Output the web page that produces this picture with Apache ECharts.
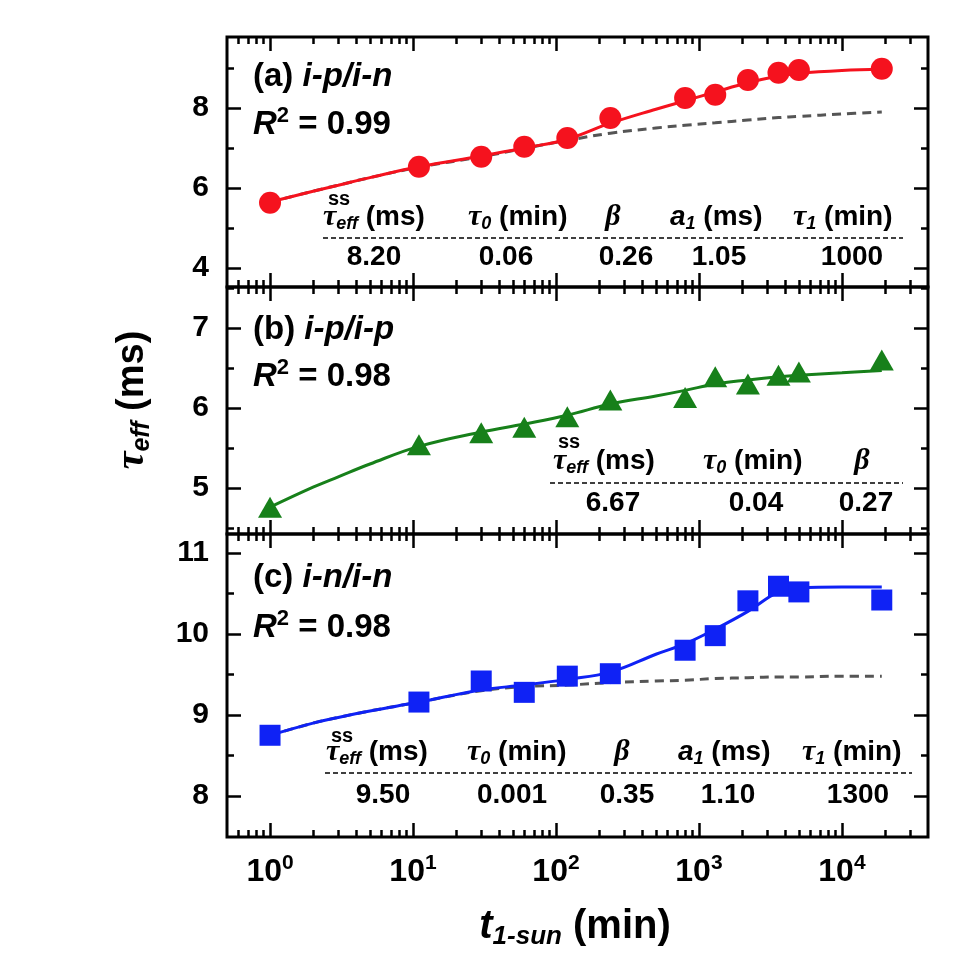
<!DOCTYPE html>
<html>
<head>
<meta charset="utf-8">
<script src="https://cdn.jsdelivr.net/npm/echarts@6/dist/echarts.min.js"></script>
<style>html,body{margin:0;padding:0;background:#fff}#chart{width:976px;height:958px}</style>
</head>
<body>
<div id="chart"></div>
<script>
// exposure times (min), same for the three samples
var tSun = [1, 11, 30, 60, 120, 240, 800, 1300, 2200, 3600, 5000, 19000];
// measured tau_eff (ms)
var tauA = [5.63, 6.53, 6.78, 7.03, 7.25, 7.75, 8.25, 8.33, 8.70, 8.88, 8.95, 8.98];
var tauB = [4.76, 5.54, 5.69, 5.76, 5.89, 6.10, 6.13, 6.39, 6.30, 6.41, 6.45, 6.60];
var tauC = [8.75, 9.16, 9.42, 9.28, 9.48, 9.51, 9.80, 9.98, 10.41, 10.59, 10.52, 10.42];
// fit curves
var fitT  = [1, 2, 3, 5, 11, 30, 60, 120, 240, 500, 800, 1300, 2200, 3600, 5000, 10000, 19000];
var fitA  = [5.65, 5.92, 6.07, 6.26, 6.53, 6.80, 7.00, 7.22, 7.62, 7.97, 8.18, 8.40, 8.63, 8.80, 8.87, 8.94, 8.97];
var dashA = [5.65, 5.92, 6.07, 6.26, 6.52, 6.78, 6.99, 7.19, 7.37, 7.50, 7.57, 7.63, 7.70, 7.76, 7.79, 7.85, 7.90];
var fitB  = [4.76, 5.01, 5.14, 5.30, 5.52, 5.70, 5.80, 5.91, 6.05, 6.15, 6.22, 6.30, 6.35, 6.39, 6.41, 6.44, 6.47];
var fitC  = [8.75, 8.90, 8.97, 9.05, 9.16, 9.31, 9.37, 9.44, 9.53, 9.75, 9.88, 10.06, 10.28, 10.52, 10.57, 10.58, 10.58];
var dashC = [8.75, 8.90, 8.97, 9.05, 9.16, 9.30, 9.35, 9.37, 9.40, 9.42, 9.43, 9.45, 9.46, 9.47, 9.47, 9.48, 9.48];
// axis ticks
var xDecades = [0, 1, 2, 3, 4];
var yMajor = [[4, 6, 8], [5, 6, 7], [8, 9, 10, 11]];
var yMinor = [[5, 7, 9], [4.5, 5.5, 6.5, 7.5], [8.5, 9.5, 10.5]];
var yRange = [[3.525, 9.775], [4.425, 7.5125], [7.494, 11.235]];

var FF = "'Liberation Sans', Arial, sans-serif";
var FS = "'Liberation Serif', 'Times New Roman', serif";

var xMin = 0.5, xMax = 40000;
var lxMin = Math.log10(xMin), lxMax = Math.log10(xMax);
var xMinor = [];
for (var n = -1; n <= 4; n++) {
  for (var k = 2; k <= 9; k++) {
    var v = Math.log10(k * Math.pow(10, n));
    if (v > lxMin + 0.01 && v < lxMax - 0.01) xMinor.push(v);
  }
}

function richSet(sz) {
  var s = Math.round(sz * 0.66);
  return {
    b: {fontSize: sz, fontWeight: 'bold', fontFamily: FF, lineHeight: sz + 2, color: '#000'},
    i: {fontSize: sz, fontWeight: 'bold', fontStyle: 'italic', fontFamily: FF, lineHeight: sz + 2, color: '#000'},
    g: {fontSize: sz + 2, fontWeight: 'bold', fontStyle: 'italic', fontFamily: FS, lineHeight: sz + 2, color: '#000'},
    sub: {fontSize: s, fontWeight: 'bold', fontStyle: 'italic', fontFamily: FF, lineHeight: s, color: '#000',
      padding: [Math.round(sz * 0.5), 0, 0, 0]},
    sup: {fontSize: s, fontWeight: 'bold', fontFamily: FF, lineHeight: s, color: '#000',
      padding: [0, 0, Math.round(sz * 0.55), 0]}
  };
}

var grids = [
  {left: 227, width: 701, top: 37, height: 250},
  {left: 227, width: 701, top: 287, height: 247},
  {left: 227, width: 701, top: 534, height: 303}
];
grids.forEach(function (g) {
  g.show = true; g.borderColor = '#000'; g.borderWidth = 3; g.backgroundColor = 'transparent';
});

var xAxes = [], yAxes = [];
function tickStyle() { return {color: '#000', width: 2.5}; }
for (var i = 0; i < 3; i++) {
  // data axis (log)
  xAxes.push({type: 'log', logBase: 10, gridIndex: i, position: 'bottom', min: xMin, max: xMax,
    axisLine: {show: false, onZero: false}, axisTick: {show: false}, axisLabel: {show: false}, splitLine: {show: false}});
  // tick axes in log10 space
  ['bottom', 'top'].forEach(function (pos) {
    [true, false].forEach(function (major) {
      var showLab = (i === 2 && pos === 'bottom' && major);
      xAxes.push({type: 'value', gridIndex: i, position: pos, min: lxMin, max: lxMax, z: 5,
        axisLine: {show: false, onZero: false}, splitLine: {show: false}, splitArea: {show: false},
        axisTick: {show: true, inside: true, length: major ? 14 : 7, customValues: major ? xDecades : xMinor, lineStyle: tickStyle()},
        axisLabel: {show: showLab, customValues: xDecades, margin: 18, color: '#000',
          formatter: function (v) { return '{b|10}{sup|' + Math.round(v) + '}'; },
          rich: richSet(32)}
      });
    });
  });
  ['left', 'right'].forEach(function (pos) {
    [true, false].forEach(function (major) {
      var showLab = (pos === 'left' && major);
      yAxes.push({type: 'value', gridIndex: i, position: pos, min: yRange[i][0], max: yRange[i][1], z: 5,
        axisLine: {show: false, onZero: false}, splitLine: {show: false}, splitArea: {show: false},
        axisTick: {show: true, inside: true, length: major ? 14 : 7, customValues: major ? yMajor[i] : yMinor[i], lineStyle: tickStyle()},
        axisLabel: {show: showLab, customValues: yMajor[i], margin: 18, color: '#000',
          fontSize: 30, fontWeight: 'bold', fontFamily: FF}
      });
    });
  });
}

function pairs(xs, ys) { return xs.map(function (x, j) { return [x, ys[j]]; }); }

var colors = ['#f5121e', '#17801a', '#0f22f5'];
var series = [];
[[fitA, dashA, tauA, 'circle', 22], [fitB, null, tauB, 'triangle', [24, 21]], [fitC, dashC, tauC, 'rect', 21]].forEach(function (p, i) {
  if (p[1]) {
    series.push({type: 'line', xAxisIndex: 5 * i, yAxisIndex: 4 * i, data: pairs(fitT, p[1]), smooth: 0.4,
      symbol: 'none', lineStyle: {color: '#555', width: 3, type: [9, 6]}, z: 1});
  }
  series.push({type: 'line', xAxisIndex: 5 * i, yAxisIndex: 4 * i, data: pairs(fitT, p[0]), smooth: 0.4,
    symbol: 'none', lineStyle: {color: colors[i], width: 3}, z: 2});
  series.push({type: 'scatter', xAxisIndex: 5 * i, yAxisIndex: 4 * i, data: pairs(tSun, p[2]),
    symbol: p[3], symbolSize: p[4], itemStyle: {color: colors[i], opacity: 1}, z: 3});
});

function txt(x, y, text, sz, align, extra) {
  var el = {type: 'text', x: x, y: y, z: 100,
    style: {text: text, rich: richSet(sz), align: align || 'left', verticalAlign: 'middle', fill: '#000',
      font: 'bold ' + sz + 'px ' + FF}};
  if (extra) for (var key in extra) el[key] = extra[key];
  return el;
}
function dash(x1, x2, y) {
  return {type: 'line', z: 100, shape: {x1: x1, y1: y, x2: x2, y2: y},
    style: {stroke: '#000', lineWidth: 1.5, lineDash: [5, 3]}};
}

var tauEff = '{g|τ}{sub|eff}{b| (ms)}';
var tau0 = '{g|τ}{sub|0}{b| (min)}';
var a1 = '{i|a}{sub|1}{b| (ms)}';
var tau1 = '{g|τ}{sub|1}{b| (min)}';
var graphics = [
  // panel labels
  txt(253, 77, '{b|(a) }{i|i-p/i-n}', 33),
  txt(253, 125, '{i|R}{sup|2}{b| = 0.99}', 33),
  txt(253, 330, '{b|(b) }{i|i-p/i-p}', 33),
  txt(253, 377, '{i|R}{sup|2}{b| = 0.98}', 33),
  txt(253, 578, '{b|(c) }{i|i-n/i-n}', 33),
  txt(253, 628, '{i|R}{sup|2}{b| = 0.98}', 33),
  // table (a)
  txt(339, 199, '{b|ss}', 20, 'center'),
  txt(323, 217, tauEff, 28), txt(468, 217, tau0, 28), txt(613, 217, '{g|β}', 28, 'center'),
  txt(670, 217, a1, 28), txt(793, 217, tau1, 28),
  dash(323, 903, 238),
  txt(374, 257, '{b|8.20}', 28, 'center'), txt(506, 257, '{b|0.06}', 28, 'center'),
  txt(626, 257, '{b|0.26}', 28, 'center'), txt(719, 257, '{b|1.05}', 28, 'center'),
  txt(852, 257, '{b|1000}', 28, 'center'),
  // table (b)
  txt(569, 442, '{b|ss}', 20, 'center'),
  txt(553, 461, tauEff, 28), txt(703, 461, tau0, 28), txt(862, 461, '{g|β}', 28, 'center'),
  dash(550, 903, 483),
  txt(613, 503, '{b|6.67}', 28, 'center'), txt(756, 503, '{b|0.04}', 28, 'center'),
  txt(866, 503, '{b|0.27}', 28, 'center'),
  // table (c)
  txt(342, 736, '{b|ss}', 20, 'center'),
  txt(326, 752, tauEff, 28), txt(467, 752, tau0, 28), txt(622, 752, '{g|β}', 28, 'center'),
  txt(678, 752, a1, 28), txt(802, 752, tau1, 28),
  dash(325, 912, 773),
  txt(383, 795, '{b|9.50}', 28, 'center'), txt(512, 795, '{b|0.001}', 28, 'center'),
  txt(627, 795, '{b|0.35}', 28, 'center'), txt(728, 795, '{b|1.10}', 28, 'center'),
  txt(858, 795, '{b|1300}', 28, 'center'),
  // axis titles
  txt(133, 400, '{g|τ}{sub|eff}{b| (ms)}', 38, 'center', {rotation: Math.PI / 2}),
  txt(575, 927, '{i|t}{sub|1-sun}{b| (min)}', 40, 'center')
];

var chart = echarts.init(document.getElementById('chart'));
chart.setOption({
  animation: false,
  backgroundColor: '#fff',
  grid: grids,
  xAxis: xAxes,
  yAxis: yAxes,
  series: series,
  graphic: graphics
});
</script>
</body>
</html>
